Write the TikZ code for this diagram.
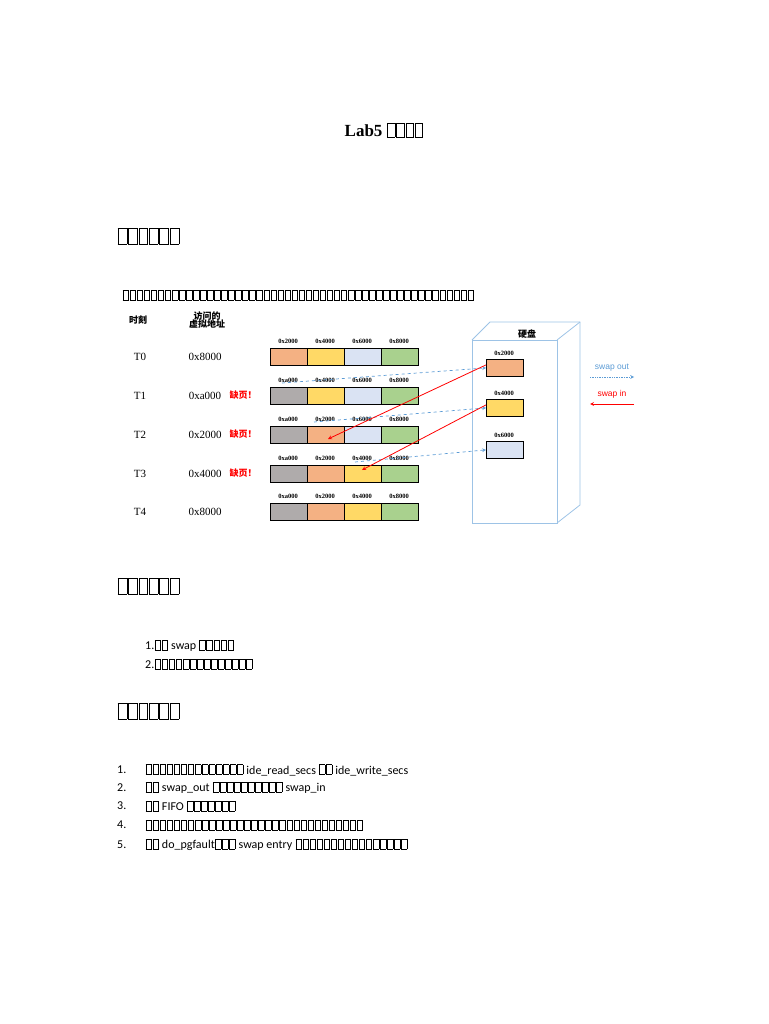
\documentclass[tikz,border=0pt]{standalone}
\usepackage{fontspec}
\setmainfont{Liberation Serif}
\newfontfamily\calfnt{Carlito}
\newfontfamily\cjk{Noto Sans CJK SC}
\newfontfamily\dsans{Liberation Sans}
\newcommand\qq{\kern0.5pt{\setlength\fboxsep{0pt}\setlength\fboxrule{0.5pt}\fbox{\rule{0pt}{0.78em}\hspace{0.42em}}}\kern0.5pt}
\newcount\qc
\newcommand\Q[1]{\qc=#1\relax\loop\ifnum\qc>0 \qq\advance\qc-1 \repeat}
\definecolor{corg}{HTML}{F4B183}
\definecolor{cyel}{HTML}{FFD966}
\definecolor{cblu}{HTML}{DAE3F3}
\definecolor{cgrn}{HTML}{A9D18E}
\definecolor{cgry}{HTML}{AFABAB}
\definecolor{sblue}{HTML}{5B9BD5}
\begin{document}
\begin{tikzpicture}[x=1pt,y=-1pt,
  cell/.style={draw=black,line width=0.8pt,minimum width=37pt,minimum height=17pt,inner sep=0pt,anchor=north west},
  hex/.style={font=\bfseries\fontsize{6.5}{7}\selectfont},
  body/.style={anchor=west,inner sep=0pt,font=\calfnt\fontsize{12}{14}\selectfont},
  head/.style={anchor=west,inner sep=0pt,font=\calfnt\fontsize{20}{22}\selectfont},
  tl/.style={font=\fontsize{11}{12}\selectfont},
  miss/.style={text=red,font=\cjk\bfseries\fontsize{9}{10}\selectfont},
  swout/.style={sblue,dashed,line width=0.7pt,-stealth},
  swin/.style={red,line width=0.8pt,-stealth}]
\useasboundingbox (0,0) rectangle (768,1024);
\node (title) at (384,130) {\fontsize{17}{20}\selectfont\textbf{Lab5} \calfnt\Q{4}};
\node[head] (h1) at (117,236) {\Q{6}};
\node[body] (p1) at (122,295) {\Q{50}};
\node[head] (h2) at (117,586) {\Q{6}};
\node[body] (a1) at (145,646) {1.\Q{2} swap \Q{5}};
\node[body] (a2) at (145,664) {2.\Q{14}};
\node[head] (h3) at (117,711) {\Q{6}};
\foreach \n/\y/\t in {1/770/{\Q{14} ide\_read\_secs \Q{2} ide\_write\_secs},2/788/{\Q{2} swap\_out \Q{10} swap\_in},3/806/{\Q{2} FIFO \Q{7}},4/825/{\Q{31}},5/845/{\Q{2} do\_pgfault\Q{3} swap entry \Q{16}}}{
  \node[body] (n\n) at (117,\y) {\n.};
  \node[body] (l\n) at (145,\y) {\t};
}
% figure headers
\node[font=\cjk\bfseries\fontsize{9}{10}\selectfont] (hs) at (138,320) {时刻};
\node[font=\cjk\bfseries\fontsize{9}{10}\selectfont,align=center,inner sep=0pt] (hv) at (207,320) {访问的\\[-2pt]虚拟地址};
% rows
\foreach \r/\y/\ad/\m/\ca/\cb/\cc/\cd/\la/\lb/\lc/\ld in {
 0/348/0x8000/0/corg/cyel/cblu/cgrn/0x2000/0x4000/0x6000/0x8000,
 1/387/0xa000/1/cgry/cyel/cblu/cgrn/0xa000/0x4000/0x6000/0x8000,
 2/426/0x2000/1/cgry/corg/cblu/cgrn/0xa000/0x2000/0x6000/0x8000,
 3/465/0x4000/1/cgry/corg/cyel/cgrn/0xa000/0x2000/0x4000/0x8000,
 4/503/0x8000/0/cgry/corg/cyel/cgrn/0xa000/0x2000/0x4000/0x8000}{
 \node[tl] (t\r) at (140,\y+9) {T\r};
 \node[tl] (v\r) at (205,\y+9) {\ad};
 \ifnum\m=1 \node[miss] (m\r) at (243,\y+8) {缺页！};\fi
 \node[cell,fill=\ca] (c\r a) at (270,\y) {};
 \node[cell,fill=\cb] (c\r b) at (307,\y) {};
 \node[cell,fill=\cc] (c\r c) at (344,\y) {};
 \node[cell,fill=\cd] (c\r d) at (381,\y) {};
 \node[hex] (x\r a) at (288,\y-7) {\la};
 \node[hex] (x\r b) at (325,\y-7) {\lb};
 \node[hex] (x\r c) at (362,\y-7) {\lc};
 \node[hex] (x\r d) at (399,\y-7) {\ld};
}
% disk
\draw[sblue!60,line width=0.8pt] (472,340) -- (490,322) -- (580,322) -- (580,505) -- (557,523);
\draw[sblue!60,line width=0.8pt] (557,340) -- (580,322);
\node[draw=sblue!60,line width=0.8pt,minimum width=85pt,minimum height=183pt,anchor=north west,inner sep=0pt] (disk) at (472,340) {};
\node[font=\cjk\bfseries\fontsize{9}{10}\selectfont] (dl) at (527,334) {硬盘};
\foreach \k/\y/\c/\l in {1/359/corg/0x2000,2/399/cyel/0x4000,3/441/cblu/0x6000}{
 \node[cell,fill=\c] (d\k) at (486,\y) {};
 \node[hex] (dx\k) at (504,\y-6) {\l};
}
% arrows
\coordinate (o1) at (282,383); \coordinate (o2) at (314,422); \coordinate (o3) at (355,462);
\coordinate (i1) at (328,439); \coordinate (i2) at (362,470);
\draw[swout] (o1) -- (d1.west);
\draw[swout] (o2) -- (d2.west);
\draw[swout] (o3) -- (d3.west);
\draw[swin] ([yshift=3pt]d1.west) -- (i1);
\draw[swin] ([yshift=3pt]d2.west) -- (i2);
% legend
\node[text=sblue,font=\dsans\fontsize{8.5}{9}\selectfont] (lo) at (612,368) {swap out};
\node[text=red,font=\dsans\fontsize{8.5}{9}\selectfont] (li) at (612,394) {swap in};
\coordinate (lo1) at (590,377); \coordinate (lo2) at (634,377);
\coordinate (li1) at (634,404); \coordinate (li2) at (590,404);
\draw[swout,densely dotted] (lo1) -- (lo2);
\draw[swin] (li1) -- (li2);
\end{tikzpicture}
\end{document}
